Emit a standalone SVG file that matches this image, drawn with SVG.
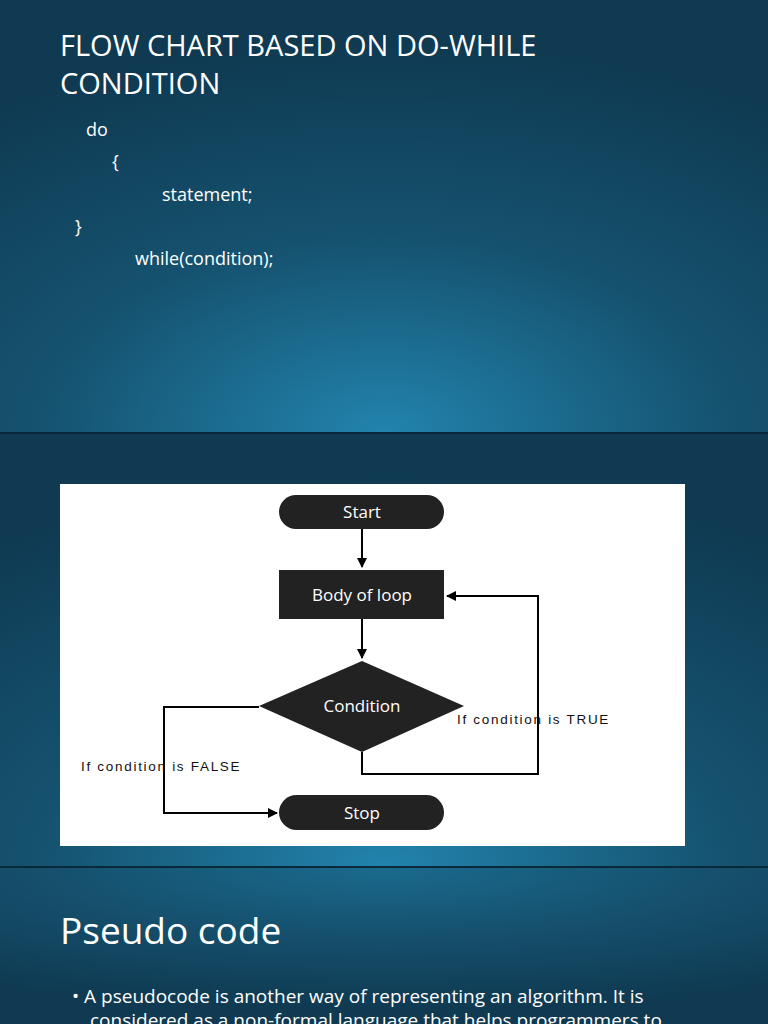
<svg xmlns="http://www.w3.org/2000/svg" width="768" height="1024" viewBox="0 0 768 1024">
<defs>
<radialGradient id="bg" cx="0.5" cy="1" r="0.9">
<stop offset="0" stop-color="#2283ad"/><stop offset="0.5" stop-color="#15526f"/><stop offset="1" stop-color="#0f3a52"/>
</radialGradient>
<radialGradient id="bg3" cx="0.5" cy="0" r="0.9">
<stop offset="0" stop-color="#1a6a8e"/><stop offset="0.5" stop-color="#154f6c"/><stop offset="1" stop-color="#0f3a52"/>
</radialGradient>
<marker id="ah" markerWidth="10" markerHeight="10" refX="9" refY="5" orient="auto" markerUnits="userSpaceOnUse">
<path d="M0,0 L10,5 L0,10 z" fill="#000"/>
</marker>
<style>
.w{fill:#fff;font-family:"Open Sans","Liberation Sans",sans-serif}
.n{fill:#222}
.nt{fill:#fff;font-family:"Open Sans","Liberation Sans",sans-serif;font-size:17px;text-anchor:middle}
.c{fill:none;stroke:#000;stroke-width:2}
.lb{fill:#111;font-family:"Liberation Sans",sans-serif;font-size:13.5px;letter-spacing:1.7px}
</style>
</defs>
<rect width="768" height="1024" fill="#0a2a3c"/>
<rect x="0" y="0" width="768" height="432" fill="url(#bg)"/>
<rect x="0" y="434" width="768" height="432" fill="url(#bg)"/>
<rect x="0" y="868" width="768" height="156" fill="url(#bg3)"/>
<text class="w" x="60" y="56" font-size="29">FLOW CHART BASED ON DO-WHILE</text>
<text class="w" x="60" y="94" font-size="29">CONDITION</text>
<g class="w" font-size="18">
<text x="86" y="136">do</text>
<text x="112" y="168">{</text>
<text x="162" y="201">statement;</text>
<text x="75" y="233">}</text>
<text x="135" y="265">while(condition);</text>
</g>
<rect x="60" y="484" width="625" height="362" fill="#fff"/>
<g id="connectors">
<path class="c" d="M362,529 V567" marker-end="url(#ah)"/>
<path class="c" d="M362,619 V658" marker-end="url(#ah)"/>
<path class="c" d="M362,752 V774 H538 V596 H447" marker-end="url(#ah)"/>
<path class="c" d="M259,707 H164 V813 H277" marker-end="url(#ah)"/>
<text class="lb" x="457" y="724">If condition is TRUE</text>
<text class="lb" x="81" y="771">If condition is FALSE</text>
</g>
<g id="start"><rect class="n" x="279" y="495" width="165" height="34" rx="17"/><text class="nt" x="362" y="518">Start</text></g>
<g id="body"><rect class="n" x="279" y="570" width="165" height="49"/><text class="nt" x="362" y="601">Body of loop</text></g>
<g id="condition"><polygon class="n" points="362,661 464,706 362,752 259,706"/><text class="nt" x="362" y="712">Condition</text></g>
<g id="stop"><rect class="n" x="279" y="795" width="165" height="35" rx="17.5"/><text class="nt" x="362" y="819">Stop</text></g>
<text class="w" x="60" y="944" font-size="37">Pseudo code</text>
<g class="w" font-size="19">
<text x="72" y="1003">• A pseudocode is another way of representing an algorithm. It is</text>
<text x="90" y="1027">considered as a non-formal language that helps programmers to</text>
</g>
</svg>
